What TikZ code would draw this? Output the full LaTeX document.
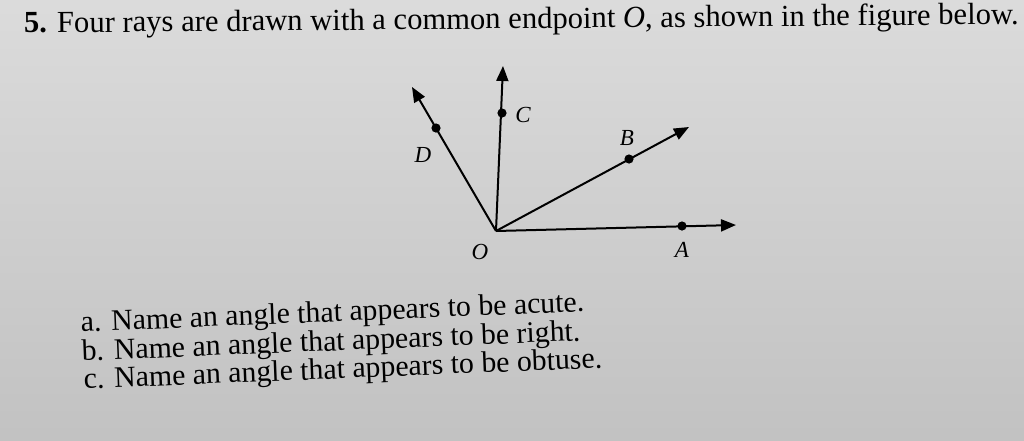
\documentclass[tikz,border=0pt]{standalone}
\usepackage{fontspec}
\setmainfont{Liberation Serif}
\usetikzlibrary{arrows.meta}
\tikzset{
  ray/.style={line width=1pt, -{Triangle[length=7.5pt,width=6pt]}},
  pt/.style={fill=black},
  lbl/.style={font=\fontsize{11.5}{13}\selectfont\itshape},
  qline/.style={anchor=base west, rotate=2.3, font=\fontsize{14.9}{16}\selectfont}
}
\begin{document}
\begin{tikzpicture}[x=0.5pt, y=-0.5pt]
		%%%%% START %%%%%
		
		\useasboundingbox (0, 0) rectangle (1024, 440);
		\shade[top color=black!14, bottom color=black!24] (0, 0) rectangle (1024, 440);
		
		\node[anchor=base west, rotate=0.5, font=\fontsize{15.3}{17}\selectfont] (title) at (17, 33)
		  {\textbf{5.} Four rays are drawn with a common endpoint \textit{O}, as shown in the figure below.};
		
		\coordinate (O) at (496, 231);
		\coordinate (tipA) at (736, 225);
		\coordinate (tipB) at (689, 127);
		\coordinate (tipC) at (503, 66);
		\coordinate (tipD) at (412, 87);
		
		\draw[ray] (O) -- (tipA);
		\draw[ray] (O) -- (tipB);
		\draw[ray] (O) -- (tipC);
		\draw[ray] (O) -- (tipD);
		
		\fill[pt] (682, 226) circle (2.3pt) coordinate (A);
		\fill[pt] (629, 159) circle (2.3pt) coordinate (B);
		\fill[pt] (502, 113) circle (2.3pt) coordinate (C);
		\fill[pt] (436, 128) circle (2.3pt) coordinate (D);
		
		\node[lbl] (labO) at (480, 252) {O};
		\node[lbl] (labA) at (682, 250) {A};
		\node[lbl] (labB) at (627, 138) {B};
		\node[lbl] (labC) at (523, 115) {C};
		\node[lbl] (labD) at (423, 155) {D};
		
		\node[qline] (qa) at (74, 332) {a. Name an angle that appears to be acute.};
		\node[qline] (qb) at (75, 361) {b. Name an angle that appears to be right.};
		\node[qline] (qc) at (77, 389) {c. Name an angle that appears to be obtuse.};
		
		%%%%% END %%%%%
	\end{tikzpicture}
\end{document}
